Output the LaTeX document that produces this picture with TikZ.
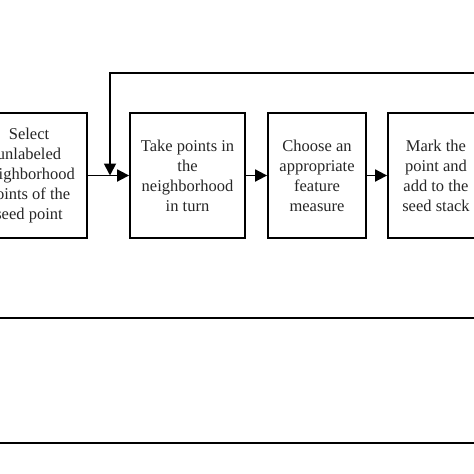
\documentclass[tikz,border=0pt]{standalone}
\usepackage{fontspec}
\setmainfont{Liberation Serif}
\usetikzlibrary{arrows.meta}

\begin{document}
\begin{tikzpicture}[x=1pt, y=-1pt, stepbox/.style={draw, line width=1.8pt, minimum height=125pt, inner sep=2pt, align=center, text=black!85, font=\fontsize{16.5}{20}\selectfont}, flow/.style={line width=1.8pt, -{Triangle[length=12pt,width=12pt]}}]
			\useasboundingbox (0,0) rectangle (474,474);
			\clip (0,0) rectangle (474,474);

			\node[stepbox, minimum width=116pt] (select) at (29,175.5) {Select\\unlabeled\\neighborhood\\points of the\\seed point};
			\node[stepbox, minimum width=115pt] (take) at (187.5,175.5) {Take points in\\the\\neighborhood\\in turn};
			\node[stepbox, minimum width=98pt] (choose) at (317,175.5) {Choose an\\appropriate\\feature\\measure};
			\node[stepbox, minimum width=96pt] (mark) at (436,175.5) {Mark the\\point and\\add to the\\seed stack};

			\coordinate (loopR) at (490,73);
			\coordinate (loopL) at (110,73);
			\coordinate (loopD) at (110,175.5);

			\draw[flow] (select) -- (take);
			\draw[flow] (take) -- (choose);
			\draw[flow] (choose) -- (mark);
			\draw[flow] (loopR) -- (loopL) -- (loopD);

			%bottom rules
			\draw[line width=2pt] (-10,318) -- (490,318);
			\draw[line width=2pt] (-10,443) -- (490,443);
		\end{tikzpicture}
\end{document}
